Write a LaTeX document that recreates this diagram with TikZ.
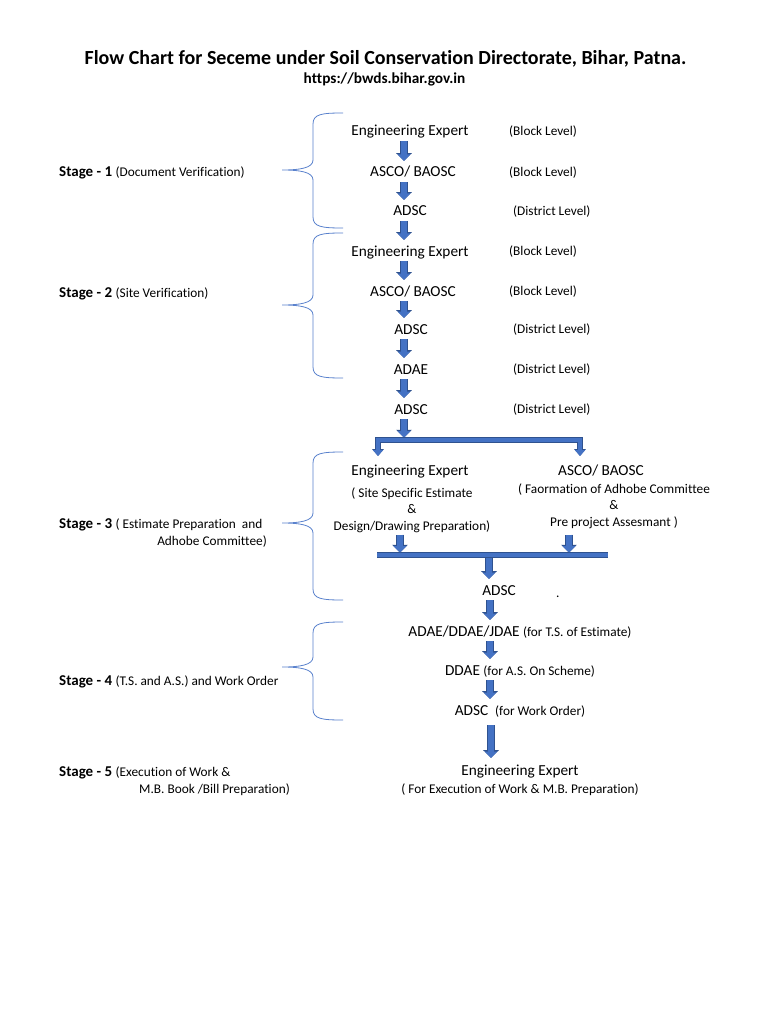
\documentclass[tikz,border=0pt]{standalone}
\usepackage{fontspec}
\setmainfont{Carlito}[Ligatures=NoCommon]
\usetikzlibrary{arrows.meta,calc}
\definecolor{afill}{HTML}{4472C4}
\definecolor{aline}{HTML}{2F528F}
\definecolor{brc}{RGB}{90,130,205}
\newcommand\smf{\fontsize{13.3}{16.3}\selectfont}
\newcommand\mybrace[3]{\draw[bracestyle] (343,#1) .. controls (322,#1) and (313,#1+1) .. (313,#1+11) -- (313,#2-10) .. controls (313,#2-2) and (300,#2) .. (282,#2) .. controls (300,#2) and (313,#2+2) .. (313,#2+10) -- (313,#3-11) .. controls (313,#3-1) and (322,#3) .. (343,#3);}
\tikzset{
  mainnode/.style={font=\fontsize{15.3}{18}\selectfont, text height=10pt, text depth=3pt, inner xsep=1pt, inner ysep=1pt, anchor=base},
  smallnode/.style={font=\smf, inner sep=0pt, anchor=base west},
  descnode/.style={font=\smf, align=center, inner sep=0pt, anchor=north},
  stagenode/.style={font=\fontsize{15}{17}\selectfont, inner sep=0pt, anchor=base west},
  titlenode/.style={font=\fontsize{20}{23}\selectfont\bfseries, inner sep=0pt, anchor=base},
  urlnode/.style={font=\fontsize{15.3}{17}\selectfont\bfseries, inner sep=0pt, anchor=base},
  bracestyle/.style={draw=brc, line width=0.8pt},
  blk/.style 2 args={draw=afill, line width=#1, line join=miter, shorten <=1pt, shorten >=5pt,
     -{Triangle[width=0pt 2.1, length=0pt 1.05]},
     preaction={draw=aline, line width=#2, -{Triangle[width=0pt 2.1, length=0pt 1.05]}}},
  barline/.style={draw=afill, line width=4pt, preaction={draw=aline, line width=5.2pt}},
}
\begin{document}
\begin{tikzpicture}[x=1pt,y=-1pt]
\useasboundingbox (0,0) rectangle (768,1024);
\fill[white] (0,0) rectangle (768,1024);

% title
\node[titlenode] (title) at (385.5,64.5) {Flow Chart for Seceme under Soil Conservation Directorate, Bihar, Patna.};
\node[urlnode] (url) at (384.5,84) {https://bwds.bihar.gov.in};

% column coordinates
\coordinate (cA) at (404,0);
\coordinate (cL) at (400,0);
\coordinate (cR) at (569,0);
\coordinate (cB) at (489,0);
\coordinate (cC) at (490,0);
\coordinate (cD) at (491,0);

% braces
\mybrace{113}{170}{228}
\mybrace{233}{305}{378}
\mybrace{452}{523}{600}
\mybrace{622}{667}{720}

% stage labels
\node[stagenode] (s1) at (59,177) {\textbf{Stage - 1} {\smf(Document Verification)}};
\node[stagenode] (s2) at (59,297) {\textbf{Stage - 2} {\smf(Site Verification)}};
\node[stagenode] (s3) at (59,528) {\textbf{Stage - 3} {\smf( Estimate Preparation~ and}};
\node[stagenode, anchor=base east] (s3b) at (267,545) {\smf Adhobe Committee)};
\node[stagenode] (s4) at (59,685) {\textbf{Stage - 4} {\smf(T.S. and A.S.) and Work Order}};
\node[stagenode] (s5) at (59,776) {\textbf{Stage - 5} {\smf(Execution of Work \&}};
\node[stagenode] (s5b) at (139,793) {\smf M.B. Book /Bill Preparation)};

% stage 1 and 2 chain
\node[mainnode] (n1) at (410,136) {Engineering Expert};
\node[mainnode] (n2) at (413,177) {ASCO/ BAOSC};
\node[mainnode] (n3) at (410,216) {ADSC};
\node[mainnode] (n4) at (410,256) {Engineering Expert};
\node[mainnode] (n5) at (413,296) {ASCO/ BAOSC};
\node[mainnode] (n6) at (411,334) {ADSC};
\node[mainnode] (n7) at (411,374) {ADAE};
\node[mainnode] (n8) at (411,414) {ADSC};

\node[smallnode] (l1) at (509,135.5) {(Block Level)};
\node[smallnode] (l2) at (509,176.5) {(Block Level)};
\node[smallnode] (l3) at (513,215.5) {(District Level)};
\node[smallnode] (l4) at (509,255.5) {(Block Level)};
\node[smallnode] (l5) at (509,295.5) {(Block Level)};
\node[smallnode] (l6) at (513,333.5) {(District Level)};
\node[smallnode] (l7) at (513,373.5) {(District Level)};
\node[smallnode] (l8) at (513,413.5) {(District Level)};

\foreach \a/\b in {n1/n2,n2/n3,n3/n4,n4/n5,n5/n6,n6/n7,n7/n8}
  \draw[blk={6pt}{7.2pt}] (\a.south -| cA) -- (\b.north -| cA);

% stage 3
\coordinate (split) at (404,440);
\coordinate (sl) at (378,456);
\coordinate (sr) at (580,456);
\draw[blk={6pt}{7.2pt}, shorten >=2.5pt] (n8.south -| cA) -- (split);
\draw[draw=afill, line width=4pt, line join=miter,
      {Triangle[width=10pt,length=6pt]}-{Triangle[width=10pt,length=6pt]},
      preaction={draw=aline, line width=5.2pt, {Triangle[width=11.5pt,length=7pt]}-{Triangle[width=11.5pt,length=7pt]}}]
      (sl) |- (split) -| (sr);

\node[mainnode] (e1) at (410,475) {Engineering Expert};
\node[mainnode] (a1) at (601,475) {ASCO/ BAOSC};
\node[descnode] (e1d) at (412,487.5) {( Site Specific Estimate\\\&\\Design/Drawing Preparation)};
\node[descnode] (a1d) at (614,483.5) {( Faormation of Adhobe Committee\\\&\\Pre project Assesmant )};

\coordinate (ml) at (377,555);
\coordinate (mr) at (608,555);
\draw[barline] (ml) -- (mr);
\draw[blk={6pt}{7.2pt}, shorten <=2pt, shorten >=2.5pt] (e1d.south -| cL) -- (ml -| cL);
\draw[blk={6pt}{7.2pt}, shorten <=2pt, shorten >=2.5pt] (e1d.south -| cR) -- (ml -| cR);

\node[mainnode] (adsc) at (499,595) {ADSC};
\node[smallnode] (dot) at (556,597) {.};
\draw[blk={6pt}{7.2pt}, shorten <=2.5pt] (ml -| cB) -- (adsc.north -| cB);

% stage 4
\node[mainnode] (d1) at (520,636) {ADAE/DDAE/JDAE {\smf(for T.S. of Estimate)}};
\node[mainnode] (d2) at (520,675) {DDAE {\smf(for A.S. On Scheme)}};
\node[mainnode] (d3) at (520,715) {ADSC~ {\smf(for Work Order)}};
\draw[blk={6pt}{7.2pt}] (adsc.south -| cC) -- (d1.north -| cC);
\draw[blk={6pt}{7.2pt}] (d1.south -| cC) -- (d2.north -| cC);
\draw[blk={6pt}{7.2pt}] (d2.south -| cC) -- (d3.north -| cC);

% stage 5
\node[mainnode] (f1) at (520,775) {Engineering Expert};
\node[smallnode, anchor=base] (f2) at (520,793.5) {( For Execution of Work \& M.B. Preparation)};
\draw[blk={6pt}{7.2pt}, shorten <=6pt, shorten >=6pt] (d3.south -| cD) -- (f1.north -| cD);
\end{tikzpicture}
\end{document}
